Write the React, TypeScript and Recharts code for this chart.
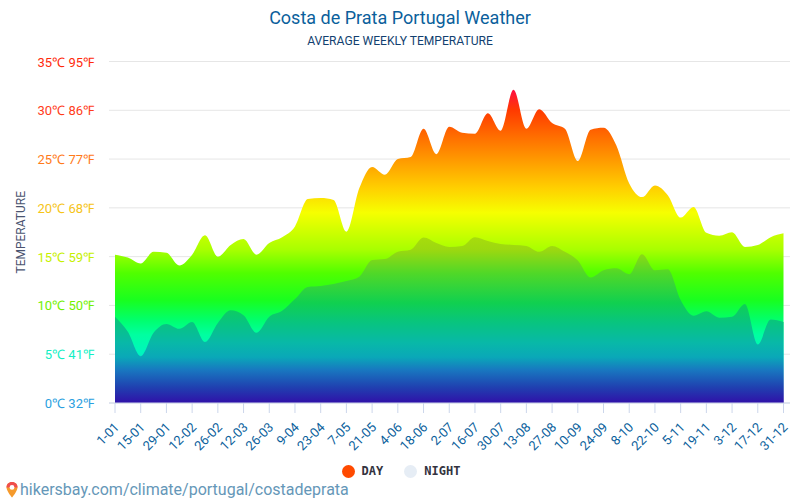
import { Area, AreaChart, CartesianGrid, Legend, XAxis, YAxis } from "recharts";

const weeks = [
  "1-01", "8-01", "15-01", "22-01", "29-01", "5-02", "12-02", "19-02", "26-02",
  "5-03", "12-03", "19-03", "26-03", "2-04", "9-04", "16-04", "23-04", "30-04",
  "7-05", "14-05", "21-05", "28-05", "4-06", "11-06", "18-06", "25-06", "2-07",
  "9-07", "16-07", "23-07", "30-07", "6-08", "13-08", "20-08", "27-08", "3-09",
  "10-09", "17-09", "24-09", "1-10", "8-10", "15-10", "22-10", "29-10", "5-11",
  "12-11", "19-11", "26-11", "3-12", "10-12", "17-12", "24-12", "31-12",
];

const dayTemps = [
  15.2, 14.9, 14.3, 15.5, 15.4, 14.1, 15.2, 17.2, 15.0, 16.2, 16.8, 15.2, 16.4, 17.0,
  18.1, 20.9, 21.0, 20.8, 17.55, 22.0, 24.2, 23.4, 25.0, 25.2, 28.1, 25.5, 28.3, 27.7,
  27.6, 29.7, 27.9, 32.1, 28.1, 30.1, 28.7, 28.1, 24.8, 28.0, 28.2, 26.4, 22.5, 21.1,
  22.3, 21.3, 19.0, 20.1, 17.45, 17.15, 17.5, 16.0, 16.2, 17.0, 17.4,
];

const nightTemps = [
  8.85, 7.3, 4.8, 7.2, 8.1, 7.6, 8.3, 6.25, 8.2, 9.5, 9.0, 7.2, 8.85, 9.45,
  10.65, 11.9, 12.0, 12.2, 12.5, 12.95, 14.65, 14.75, 15.5, 15.7, 16.95, 16.4, 16.0, 16.1,
  17.0, 16.6, 16.3, 16.2, 16.1, 15.5, 16.1, 15.5, 14.6, 12.85, 13.6, 13.8, 13.2, 15.25,
  13.6, 13.7, 10.55, 8.95, 9.4, 8.75, 8.85, 10.15, 6.0, 8.55, 8.3,
];

const tempTicks = [0, 5, 10, 15, 20, 25, 30, 35];
const tickColors = ["#2b9fe0", "#12efc4", "#72f000", "#c6f000", "#f6c417", "#ff7a1a", "#ff3c1a", "#ff2a0a"];

const dayGradientTemps = [32, 30, 27.5, 25, 22, 19.5, 15.7, 13.3, 10.5, 8.4, 7, 5, 0];
const dayGradientColors = [
  "#ff1040", "#ff3a00", "#ff6a00", "#ff9800", "#ffd000", "#f6ff00", "#a8ff00",
  "#50ff00", "#18ff20", "#00ff70", "#00ffa0", "#00f5c0", "#3010a8",
];

const nightGradientTemps = [17, 15.7, 13.3, 10.25, 8.2, 6.15, 4.7, 3.4, 1.6, 0];
const nightGradientColors = [
  "#a8dc0c", "#9cd810", "#50d828", "#10d050", "#08c480", "#08b8a8", "#0aa8b8", "#1878c0", "#2040b0", "#3010a8",
];

const chartData = weeks.map((week, i) => ({ week, day: dayTemps[i], night: nightTemps[i] }));
const topDay = Math.max(...dayTemps);
const topNight = Math.max(...nightTemps);

const toFahrenheit = (c: number) => Math.round((c * 9) / 5 + 32);

const TempTick = ({ x, y, payload, index }: any) => (
  <text x={x - 7} y={y + 5} textAnchor="end" fontSize={13} fontFamily="Roboto" fill={tickColors[index]}>
    {`${payload.value}℃ ${toFahrenheit(payload.value)}℉`}
  </text>
);

const WeekTick = ({ x, y, payload }: any) => (
  <text
    x={x + 5}
    y={y + 13}
    textAnchor="end"
    fontSize={13}
    fontFamily="Roboto"
    fill="#0b5f9c"
    transform={`rotate(-45 ${x + 5} ${y + 13})`}
  >
    {payload.value}
  </text>
);

const LegendRow = ({ payload }: any) => (
  <div style={{ display: "flex", justifyContent: "center", height: 20, alignItems: "center", paddingLeft: 2 }}>
    {payload.map((entry: any, i: number) => (
      <div key={entry.value} style={{ display: "flex", alignItems: "center", marginLeft: i ? 21 : 0 }}>
        <span
          style={{
            width: 13,
            height: 13,
            borderRadius: "50%",
            marginRight: 7,
            background: i ? "#e6edf5" : "#ff4a00",
          }}
        />
        <span style={{ font: "bold 12px 'DejaVu Sans Mono'", color: "#333340" }}>{entry.value}</span>
      </div>
    ))}
  </div>
);

export default function App() {
  return (
    <div style={{ position: "absolute", left: 0, top: 0, width: 800, height: 500, background: "#fff", overflow: "hidden" }}>
      <AreaChart
        width={800}
        height={500}
        data={chartData}
        margin={{ top: 61.5, right: 10, bottom: 17, left: 0 }}
      >
        <defs>
          <linearGradient id="dayFill" x1="0" y1="0" x2="0" y2="1">
            {dayGradientTemps.map((t, i) => (
              <stop key={t} offset={1 - t / topDay} stopColor={dayGradientColors[i]} />
            ))}
          </linearGradient>
          <linearGradient id="nightFill" x1="0" y1="0" x2="0" y2="1">
            {nightGradientTemps.map((t, i) => (
              <stop key={t} offset={1 - t / topNight} stopColor={nightGradientColors[i]} />
            ))}
          </linearGradient>
        </defs>
        <CartesianGrid vertical={false} stroke="#e6e6e6" />
        <XAxis
          dataKey="week"
          interval={1}
          height={60}
          padding={{ left: 6, right: 6.5 }}
          tickSize={10}
          stroke="#ccd6eb"
          tick={<WeekTick />}
        />
        <YAxis
          width={109}
          domain={[0, 35]}
          ticks={tempTicks}
          axisLine={false}
          tickLine={false}
          tick={<TempTick />}
          label={{
            value: "TEMPERATURE",
            angle: -90,
            position: "insideLeft",
            offset: 21,
            style: { fontFamily: "Roboto", fontSize: 12, fill: "#4a5470", textAnchor: "middle" },
          }}
        />
        <Area
          type="monotone"
          dataKey="day"
          name="DAY"
          stroke="none"
          fill="url(#dayFill)"
          fillOpacity={1}
          dot={false}
          activeDot={false}
          isAnimationActive={false}
        />
        <Area
          type="monotone"
          dataKey="night"
          name="NIGHT"
          stroke="none"
          fill="url(#nightFill)"
          fillOpacity={1}
          dot={false}
          activeDot={false}
          isAnimationActive={false}
        />
        <Legend content={<LegendRow />} wrapperStyle={{ left: 0, width: 800, bottom: 19 }} />
      </AreaChart>

      <div style={{ position: "absolute", left: 0, top: 7, width: 800, textAlign: "center", font: "18px Roboto", color: "#0b5f9c" }}>
        Costa de Prata Portugal Weather
      </div>
      <div style={{ position: "absolute", left: 0, top: 34, width: 800, textAlign: "center", font: "12.1px Roboto", color: "#123f70" }}>
        AVERAGE WEEKLY TEMPERATURE
      </div>

      <svg style={{ position: "absolute", left: 5, top: 481 }} width={14} height={18} viewBox="0 0 14 18">
        <path d="M7 1C3.7 1 1.5 3.4 1.5 6.4 1.5 10 7 16.5 7 16.5S12.5 10 12.5 6.4C12.5 3.4 10.3 1 7 1Z" fill="#f59a2c" />
        <path d="M7 1C3.7 1 1.5 3.4 1.5 6.4H12.5C12.5 3.4 10.3 1 7 1Z" fill="#ef4e4e" />
        <circle cx="7" cy="6.4" r="2.4" fill="#fff" />
      </svg>
      <div style={{ position: "absolute", left: 20, top: 480, font: "16px Roboto", color: "#6597b8" }}>
        hikersbay.com/climate/portugal/costadeprata
      </div>
    </div>
  );
}
